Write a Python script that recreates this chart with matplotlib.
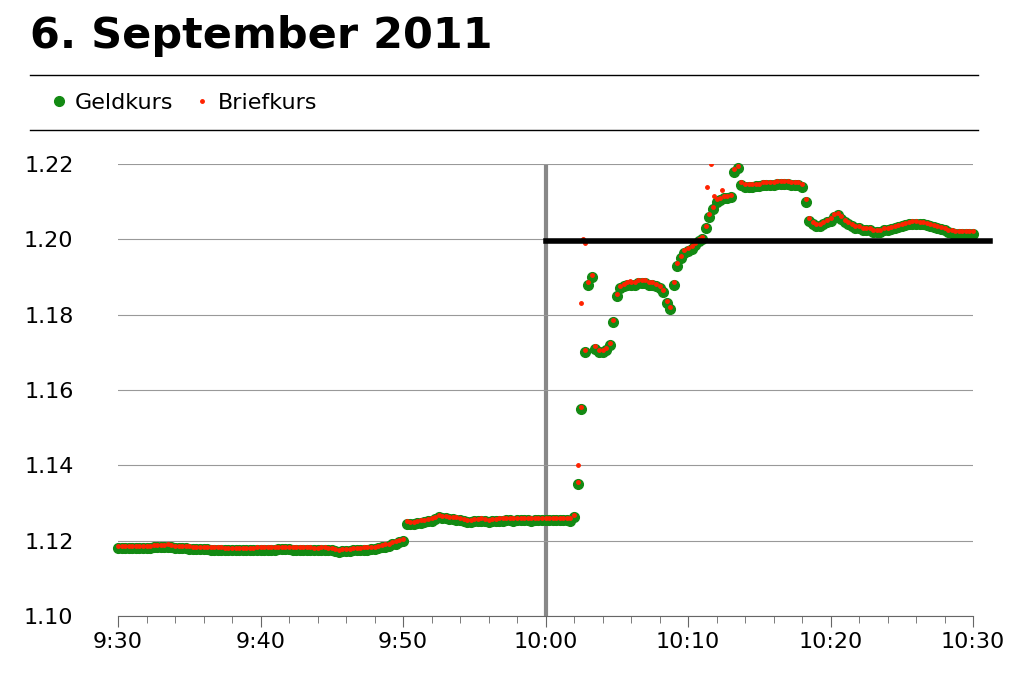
import numpy as np
import matplotlib.pyplot as plt
from matplotlib.lines import Line2D

# Geldkurs, four readings per minute starting 9:30 (in 1e-4 above 1.10)
geld_q = [
    180, 180, 180, 181,  180, 181, 181, 181,  181, 181, 182, 182,  182, 183, 184, 182,
    181, 181, 180, 180,  179, 178, 178, 177,  177, 177, 176, 176,  176, 176, 175, 175,
    175, 175, 175, 175,  175, 175, 175, 176,  176, 176, 176, 176,  176, 177, 177, 177,
    177, 176, 176, 176,  176, 176, 176, 175,  175, 176, 176, 175,  175, 172, 170, 172,
    173, 173, 174, 174,  175, 176, 176, 177,  178, 180, 182, 184,  186, 190, 192, 196,
    198, 245, 243, 244,  246, 248, 250, 251,  253, 258, 262, 260,  259, 258, 257, 256,
    254, 252, 250, 250,  251, 252, 253, 252,  250, 251, 252, 253,  253, 254, 254, 253,
    254, 255, 255, 254,  253, 254, 254, 254,  254, 254, 254, 255,  254, 254, 254, 253,
    262, 350, 550, 700,  880, 900, 710, 700,  700, 705, 720, 780,  850, 870, 875, 880,
    880, 880, 885, 885,  885, 880, 880, 875,  870, 860, 830, 815,  880, 930, 950, 965,
    970, 975, 985, 995,  1000, 1030, 1060, 1080,  1100, 1105, 1110, 1110,  1112, 1180, 1190, 1145,
    1140, 1140, 1140, 1142,  1142, 1145, 1145, 1145,  1145, 1148, 1148, 1148,  1148, 1145, 1145, 1145,
    1140, 1100, 1050, 1040,  1035, 1035, 1040, 1045,  1050, 1060, 1065, 1055,  1045, 1040, 1035, 1030,
    1030, 1025, 1025, 1025,  1020, 1020, 1020, 1025,  1025, 1028, 1030, 1032,  1035, 1038, 1040, 1042,
    1042, 1040, 1040, 1038,  1035, 1032, 1030, 1028,  1025, 1020, 1018, 1015,  1015, 1015, 1015, 1015,
    1015,
]
spread_q = 6
# isolated Briefkurs quotes that stray from the bid (minute, price)
brief_out_t = [32.3, 32.5, 32.6, 32.8, 35.9, 41.3, 41.6, 41.8, 42.4]
brief_out_v = [1.1400, 1.1830, 1.2000, 1.1990, 1.1890, 1.2140, 1.2200, 1.2115, 1.2130]

geld = 1.10 + np.array(geld_q) / 1e4
t = np.arange(len(geld)) / 4.0
brief = geld + spread_q / 1e4

xticks = [0, 10, 20, 30, 40, 50, 60]
xlabels = ["9:30", "9:40", "9:50", "10:00", "10:10", "10:20", "10:30"]
yticks = [1.10, 1.12, 1.14, 1.16, 1.18, 1.20, 1.22]

green = "#138a13"
red = "#ff2200"

fig = plt.figure(figsize=(10.33, 6.99), dpi=100)
fig.text(30 / 1033, 1 - 36 / 699, "6. September 2011", fontsize=31, fontweight="bold",
         va="center", ha="left")
for yy in (75, 130):
    fig.add_artist(Line2D([30 / 1033, 978 / 1033], [1 - yy / 699] * 2, color="black", lw=1))

handles = [Line2D([], [], ls="none", marker="o", color=green, ms=7),
           Line2D([], [], ls="none", marker="o", color=red, ms=2.5)]
fig.legend(handles, ["Geldkurs", "Briefkurs"], loc="center left",
           bbox_to_anchor=(28 / 1033, 1 - 103 / 699), frameon=False, fontsize=16,
           ncol=2, handletextpad=0.2, columnspacing=0.8, handlelength=1)

ax = fig.add_axes([118 / 1033, 1 - 616 / 699, 855 / 1033, 452 / 699])
ax.set_xlim(0, 60)
ax.set_ylim(1.10, 1.22)
ax.set_yticks(yticks)
ax.set_yticklabels([f"{v:.2f}" for v in yticks])
ax.set_xticks(xticks)
ax.set_xticklabels(xlabels)
ax.set_xticks(np.arange(0, 61, 2), minor=True)
ax.grid(axis="y", color="#999999", lw=0.8)
for s in ("left", "right", "top"):
    ax.spines[s].set_visible(False)
ax.spines["bottom"].set_color("#666666")
ax.tick_params(axis="y", length=0, labelsize=16, pad=32)
ax.tick_params(axis="x", which="major", length=8, labelsize=16, direction="out", color="#666666")
ax.tick_params(axis="x", which="minor", length=5, direction="out", color="#666666")
ax.axvline(30, color="#888888", lw=3, zorder=1)

ax.plot(t, geld, ls="none", marker="o", color=green, ms=7, zorder=3, clip_on=False)
ax.plot(t, brief, ls="none", marker="o", color=red, ms=2.5, zorder=4, clip_on=False)
ax.plot(brief_out_t, brief_out_v, ls="none", marker="o", color=red, ms=2.5, zorder=4)
ax.plot([30, 61.2], [1.1995, 1.1995], color="black", lw=4, zorder=5, clip_on=False)

fig.savefig("out.png", dpi=100)
